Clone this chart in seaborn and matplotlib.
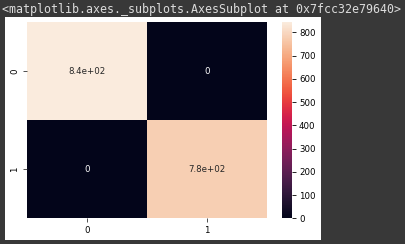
import matplotlib
matplotlib.use("Agg")
import matplotlib.pyplot as plt
import seaborn as sns
import numpy as np
from matplotlib.patches import Rectangle

row_labels = ["0", "1"]
col_labels = ["0", "1"]
row0 = [843, 0]
row1 = [0, 779]
cbar_ticks = [0, 100, 200, 300, 400, 500, 600, 700, 800]
header = "<matplotlib.axes._subplots.AxesSubplot at 0x7fcc32e79640>"

W, H = 406, 244
fig = plt.figure(figsize=(W / 100, H / 100), dpi=100, facecolor="#383838")
fig.patches.append(Rectangle((5 / W, 4 / H), 316 / W, 223 / H,
                             transform=fig.transFigure, facecolor="white",
                             edgecolor="none", zorder=-10))
fig.text(2.5 / W, 1 - 9 / H, header, color="#dcdcdc", fontsize=8.35,
         family="DejaVu Sans Mono", va="center", ha="left")

ax = fig.add_axes([26.7 / W, (H - 218.3) / H, 240 / W, 196 / H])
cax = fig.add_axes([282.3 / W, (H - 218.3) / H, 9.7 / W, 196 / H])
ax.set_zorder(5)
cax.set_zorder(5)

data = np.array([row0, row1])
sns.heatmap(data, annot=True, ax=ax, cbar_ax=cax,
            xticklabels=col_labels, yticklabels=row_labels,
            annot_kws={"fontsize": 6.2})
ax.tick_params(labelsize=6.2, length=3, width=0.6, color="#333333", pad=2.5)
ax.set_yticklabels(row_labels, rotation=90, va="center")
cax.set_yticks(cbar_ticks)
cax.tick_params(labelsize=6.2, length=3, width=0.6, pad=2)

fig.savefig("out.png", dpi=100, facecolor=fig.get_facecolor())
